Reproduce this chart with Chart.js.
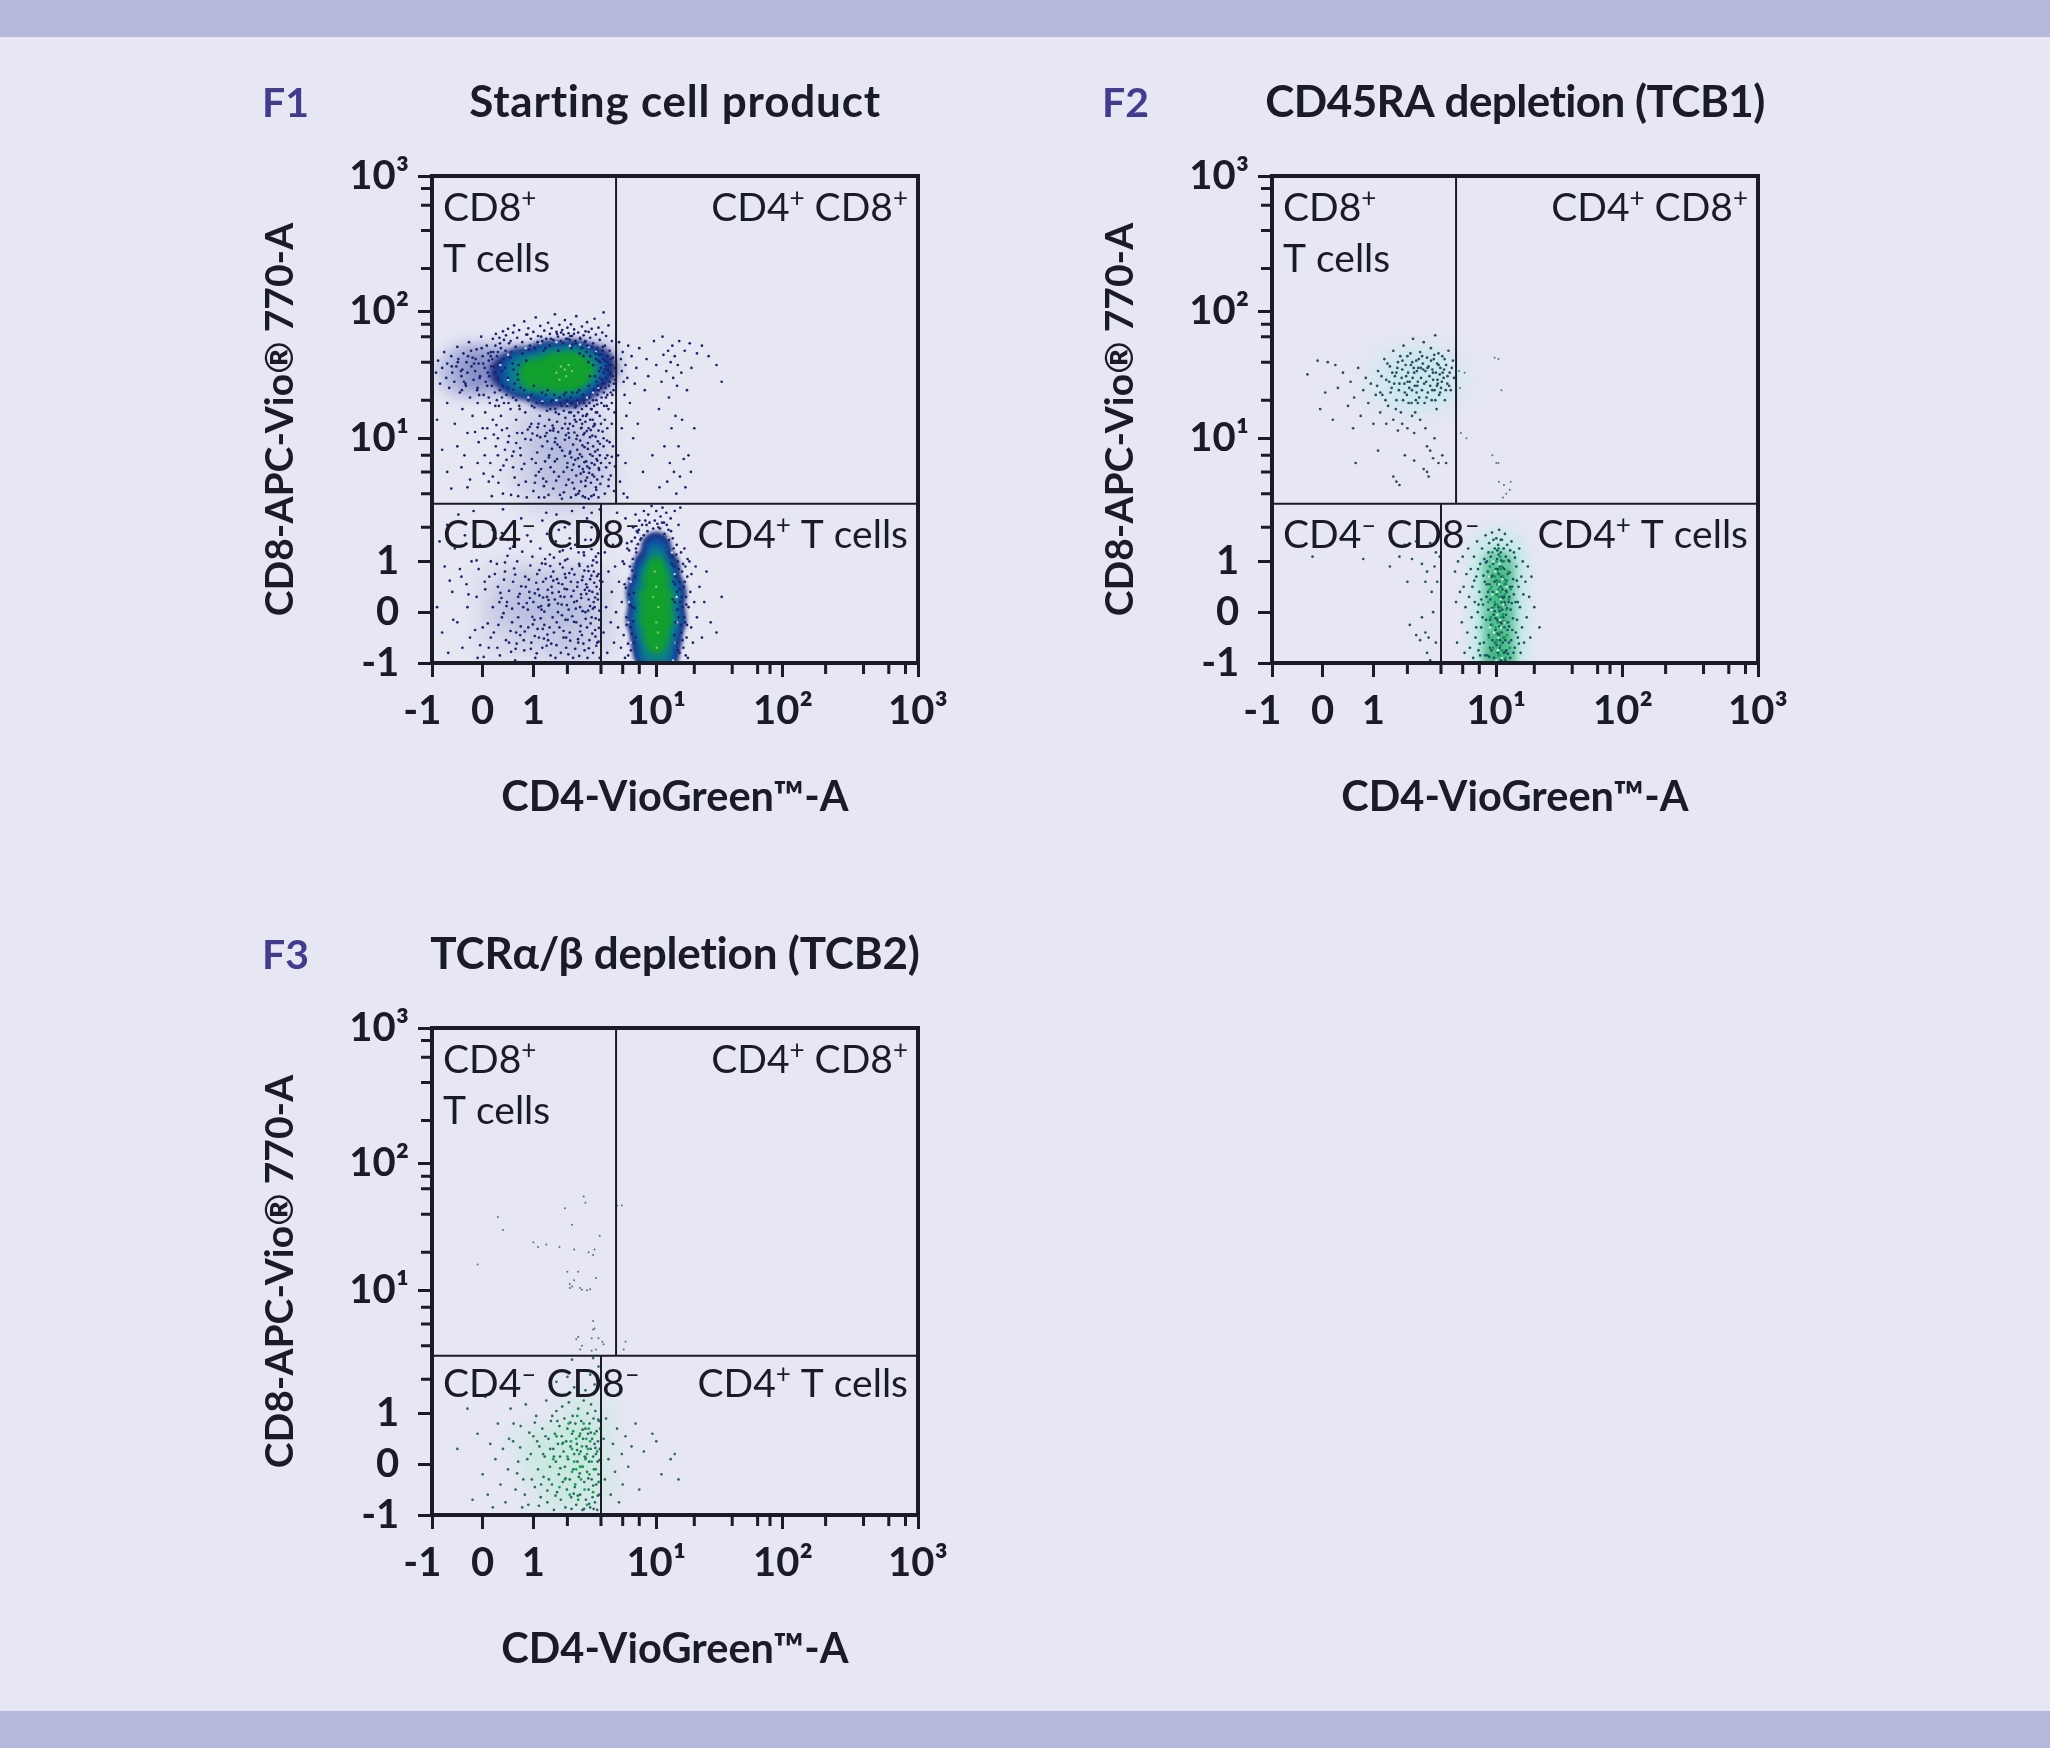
<!DOCTYPE html>
<html><head><meta charset="utf-8">
<script src="https://cdn.jsdelivr.net/npm/chart.js@4/dist/chart.umd.min.js"></script>
<style>
html,body{margin:0;padding:0;background:#e6e7f3;width:2050px;height:1748px;overflow:hidden}
.band{position:absolute;left:0;width:2050px;height:37px;background:#b3b8dc}
canvas{position:absolute}
</style></head><body>
<div class="band" style="top:0"></div><div class="band" style="top:1711px"></div>
<canvas id="f1" style="left:192px;top:56px"></canvas>
<canvas id="f2" style="left:1032px;top:56px"></canvas>
<canvas id="f3" style="left:192px;top:908px"></canvas>
<script>
// Biexponential axis: value anchors and their share of the axis length
const axisValues = [-1,0,1,2,4,6,8,10,20,40,60,80,100,200,400,600,800,1000];
const axisShare = [0,.1043,.2086,.2786,.3477,.3924,.4265,.4615,.5397,.6177,.6700,.6955,.7222,.8099,.8879,.9399,.9743,1];
const majorTicks = [-1,0,1,10,100,1000];
const minorTicks = [2,4,6,8,20,40,60,80,200,400,600,800];
const xTickText = {'-1':'-1\u00A0\u00A0','0':'0','1':'1','10':'10¹','100':'10²','1000':'10³'};
const yTickText = {'-1':'-1\u00A0','0':'0\u00A0','1':'1\u00A0','10':'10¹','100':'10²','1000':'10³'};

// Quadrant gate
const gateY = 3.25, gateXUpper = 5.3, gateXLower = 4;

// F1 density cores, CD8+ population
const f1TopWash = [-.4,34,-.1,35,.2,35,.6,35,1,33,1.5,30,2,30,2.6,33,3.2,36,3.6,36];
const f1TopNavy = [.48,33.2,.81,32.7,1.4,32.1,2.2,33.2,3.45,35.7,2.2,23];
const f1TopBlue = [.73,32.7,1.4,32.7,2.2,33.8,3.15,35.7];
const f1TopTeal = [.87,32.7,1.5,33.2,2.2,34.4,2.87,35.7];
const f1TopGreen = [1.03,32.1,1.57,33.2,2.12,33.8,2.7,35];
const f1TailWash = [1,12,1.4,12,2,12,2.8,12,1,7,1.6,7,2.4,7,3.2,7,1.2,4.5,2,4.5,3,4.5];
const f1LowerWash = [.4,.4,.8,.4,1.2,.4,1.7,.4,2.4,.4,3.2,.4,.4,-.4,1.2,-.4,1.7,-.4,2.4,-.4,3.2,-.4,.7,0];
// F1 density cores, CD4+ population
const f1RightNavy = [10,1.35,10,.85,10,.37,10,-.12,10,-.51,10,-.8];
const f1RightBlue = [10,1.3,10,.8,10,.35,10,-.12,10,-.5,10,-.85];
const f1RightTeal = [10,1.15,10,.75,10,.32,10,-.12,10,-.48,10,-.8];
const f1RightGreen = [10,.92,10,.67,10,.27,10,-.12,10,-.45,10,-.65];
const f1Bright = [1.6,33,1.75,37,1.9,35,1.95,31,2.05,38,1.7,29,2.2,34,10,.5,10.4,.1,9.6,.3,10,-.2,10.3,-.4,9.8,.8,10.1,-.7];
// background-coloured gaps breaking up the outer edge of the cores
const f1RimGaps = [.6,24,.9,21,1.2,19.5,1.6,20,2,18.5,2.5,19,3,21,3.4,23,.5,45,.85,50,1.15,54,1.6,55,2.1,52,2.6,53,3.1,51,3.6,47,3.9,30,3.8,25,.35,38,.5,29,
7.2,1,6.9,.6,6.7,.2,6.6,-.2,6.9,-.6,7.2,-.95,7.5,1.4,8,1.7,9,2,11,2,12.5,1.6,13.3,1.2,14,.75,14.5,.3,14.6,-.2,14.2,-.6,13.6,-.95];

// F1 individual events
const f1Cd8Events = [
-.92,33,-.88,41,-.84,27,-.8,36,-.76,47,-.72,30,-.7,39,-.66,25,-.62,44,-.6,33,-.56,28,-.52,37,-.5,51,-.48,42,-.45,23,-.42,31,-.4,35,-.38,46,-.34,27,-.32,40,-.3,33,-.27,55,-.25,21,-.22,37,-.2,43,-.18,29,-.15,34,-.12,49,-.1,25,-.08,39,-.05,31,-.03,60,0,44,.02,22,.04,36,.06,28,.08,52,.1,33,.12,41,.14,19,.16,47,.18,26,.2,58,.22,37,.24,23,.26,64,.28,44,.3,30,.32,18,.34,54,.36,50,.38,21,.4,68,.42,57,
.46,62,.5,72,.55,56,.6,66,.62,78,.68,59,.72,70,.78,55,.82,84,.86,63,.9,73,.95,58,1,67,1.05,90,1.1,61,1.15,77,1.2,56,1.25,69,1.3,58,1.35,82,1.4,64,1.45,73,1.5,57,1.55,95,1.6,67,1.65,60,1.7,79,1.75,56,1.8,70,1.85,63,1.9,86,1.95,58,2,74,2.05,65,2.1,57,2.15,80,2.2,61,2.3,71,2.35,56,2.4,92,2.5,66,2.6,59,2.7,76,2.8,62,2.9,56,3,83,3.1,67,3.2,59,3.3,72,3.4,54,3.5,88,3.6,63,3.7,50,3.8,74,3.9,57,4,45,4.1,66,4.2,98,4.3,52,4.4,61,4.5,40,4.6,78,4.7,48,4.8,33,4.9,56,5,43,5.1,27,5.2,36,
.25,52,.3,47,.35,40,.4,26,.45,48,.5,30,.55,43,.6,24,.65,51,.7,29,3.8,24,3.9,30,4,36,4.05,21,4.1,27,4.2,33,4.25,18,4.3,41,4.35,25,4.4,30,4.5,22,4.55,35,4.6,17,4.7,28,4.8,23,4.85,38,4.9,19,5,31,5.05,24,5.15,16,5.2,29,
-.9,14,-.7,19,-.55,13,-.4,17,-.3,11,-.2,15,-.1,19,0,12,.05,16,.12,21,.2,14,.25,18,.3,10,.36,15,.42,19,.48,12,.55,17,.6,21,.66,14,.72,18,.78,11,.84,16,.9,20,.96,13,1.02,17.5,1.08,10.5,1.14,15,1.2,19,1.26,12.5,1.32,16.5,1.38,14,1.44,19.5,1.5,11.5,1.56,17,1.62,13.5,1.68,15.5,1.74,19,1.8,12,1.86,16.5,1.92,14.5,1.98,18,2.05,11,2.1,13,2.15,16,2.2,19,2.25,12.5,2.3,15,2.35,17.5,2.4,13.5,2.45,10.5,2.5,16,2.55,19,2.6,14,2.65,12,2.7,17,2.75,15,2.8,20,2.85,11,2.9,13.5,2.95,18,3,15.5,3.1,12,3.15,19,3.2,14,3.3,17,3.35,10.5,3.4,20,3.5,13,3.6,16,3.7,18.5,3.8,11.5,3.9,15,4,13,4.2,10,4.3,14,4.5,12,4.7,9.5,4.9,13,
-.7,6,-.5,9,-.3,4.5,-.1,7,.05,10,.2,5.5,.3,8,.4,4,.5,9.5,.6,6.5,.7,3.8,.75,8,.85,5,.95,9.8,1,4.2,1.05,7,1.12,6,1.2,9,1.25,3.7,1.3,5,1.38,8,1.42,6.5,1.5,4.4,1.55,9.5,1.62,7.5,1.68,5.5,1.72,3.9,1.8,8.5,1.85,6,1.9,9.8,1.95,4.7,2,7,2.05,5.2,2.1,8.2,2.15,3.7,2.2,6.2,2.25,9.2,2.3,4.4,2.35,7.4,2.4,5.6,2.45,8.6,2.5,4,2.55,6.6,2.6,9.7,2.65,5,2.7,7.8,2.75,3.8,2.8,6,2.85,8.9,2.9,4.6,2.95,7.2,3,5.4,3.05,9.4,3.1,3.6,3.15,6.4,3.2,8.1,3.25,4.9,3.3,7,3.35,5.7,3.4,9,3.45,3.9,3.5,6.8,3.55,8.4,3.6,4.5,3.65,7.5,3.7,5.2,3.75,9.6,3.8,3.7,3.85,6.2,3.9,8,3.95,4.8,4,7,4.1,5.5,4.2,9,4.3,4,4.4,6.5,4.5,8,4.6,4.6,4.7,7,4.8,5.6,5,9,5.1,4.2,5.2,6.6];
// second pass over the same population, filling the rim around the dense core
const f1Cd8Rim = [
.31,29,2.23,53,-.17,39,3.72,22,1.07,19,.57,47,4.41,37,1.83,54,.09,26,2.94,15,-.43,34,3.33,51,1.29,22,.73,17,4.12,48,2.61,58,.19,42,3.47,18,1.51,12,-.06,30,2.08,16,4.63,26,.88,63,3.04,52,1.71,21,.44,36,2.47,20,-.29,44,3.86,34,1.17,60,.66,20,4.22,23,2.76,22,.13,31,3.58,46,1.94,23,.52,54,-.61,37,3.16,21,1.39,52,.82,24,4.51,44,2.33,14,-.11,24,3.66,28,1.62,64,.38,34,2.87,55,4.03,19,1.03,50,.21,47,3.25,17,1.91,13,.69,32,-.37,28,2.55,24,4.32,35,1.46,20,.96,22,3.79,41,.01,39,2.18,50,1.23,48,.47,22,3.52,31,4.73,32,2.69,50,.28,20,-.23,48,1.76,66,3.11,26,.59,39,4.16,42,2.39,18,.79,46,1.34,24,3.41,38,-.49,40,2.02,58,4.46,18,.17,37,2.82,19,1.58,16,.93,52,3.64,20,4.08,29,-.02,50,1.11,13,.41,42,2.97,47,3.93,40,1.87,22,.63,27,4.58,34,2.29,64,.11,46,3.21,44,1.43,58,-.33,26,2.71,13,.86,41,3.99,25,1.66,48,.34,24,4.27,27,2.14,21,.75,25,3.37,14,1.19,23,-.14,42,.51,19,2.91,68,4.39,21,3.69,16,1.78,18,.24,33,2.44,23,1.01,26,3.83,45,.61,35,4.67,38,1.53,22,2.12,61,3.09,40,.91,49,-.07,22,.16,44,2.58,46,1.28,50,4.81,42,3.44,24,.71,38,2.38,54,1.97,20,3.6,42,.33,59,4.95,22,2.79,44,-.41,24,1.09,55,3.18,31,.5,25,4.14,51,2.21,23,1.41,17,3.74,26,.97,18];
const f1TailEvents = [
1.66,11.2,2.73,9.1,1.08,8.3,3.42,12.4,.63,5.4,2.27,6.8,1.94,10.6,3.71,7.3,.89,11.7,2.56,4.2,1.33,9.6,3.13,5.9,.47,7.4,2.03,11.9,2.84,7.1,1.59,5.1,3.58,10.3,1.17,6.3,2.41,9.9,3.28,3.8,.74,8.8,1.86,4.1,2.98,11.4,1.48,12.6,3.82,6.4,2.17,7.7,.98,10.9,2.63,5.8,1.72,8.9,3.36,7.9,.56,3.9,2.31,11.1,1.24,4.6,3.05,8.7,1.99,6.5,2.79,10.7,.82,6.9,3.63,4.3,1.41,11.5,2.49,7.6,1.79,3.6,3.19,10.2,1.05,5.6,2.91,5.1,.35,6.2,2.12,8.4,3.52,12.8,1.55,7.2,2.68,12.1,3.91,9.3,1.27,10.4,2.38,3.9,4.35,7.6,1.9,7.9,.66,9.4,3.01,6.6,4.62,5.2,2.22,4.9,1.63,9.2,3.47,5.5,2.75,6.3,.18,3.8,4.12,11.3,1.12,3.7,2.59,8.1,3.74,8.6,.04,8,2.07,10.1,4.48,9.7,2.88,3.7,1.37,7.7,3.24,11.6,-.42,6.5,-.15,11.2,.26,9,-.62,4.4,.12,5,-.8,8.6,4.9,7.8,
.93,12.3,.52,10.4,1.22,5.3,.71,4.7,1.46,8.7,.38,11.6,.84,9.9,1.31,11,.58,7.9,1.03,4.9,1.52,6,.27,12.7,.77,6.3,1.15,10.2,.44,8.6,1.36,3.9,.97,7.5,.68,11,1.27,7.2,.31,4.9,.87,3.7,1.57,10,.15,7,.61,8.4,1.09,12.2,.02,5.8,.41,6.7,-.08,9.5,-.25,5.2,.22,10.7,-.36,8,.09,12];
const f1RightEvents = [
5.6,55,5.8,42,5.9,34,6,47,6.1,28,6.2,22,6.3,38,6.4,15,6.5,30,6.6,52,6.8,19,7,44,7.2,10,7.4,27,7.6,36,7.8,13,8,50,8.4,6,8.6,24,8.8,42,9,31,9.5,8,9.7,56,10,38,10.5,17,10.6,4.5,11,28,11.2,60,11.4,45,11.6,9,12,34,12.2,5,12.4,48,12.6,21,12.8,7,13,40,13.2,12,13.4,52,13.6,30,13.8,6,14,44,14.2,15,14.4,4,14.6,26,14.8,38,15,9,15.2,56,15.4,5.5,15.8,33,16,14,16.5,7.5,16.8,48,17,4.5,17.5,24,18,8,18.4,54,18.8,6,19,36,20,12,21,46,23,52,26,44,30,38,33,28,
5.5,8,5.7,5,5.9,12,6.1,4,6.3,7,6.5,3.7];
const f1LowerLeftEvents = [
-.9,.1,-.85,1.5,-.8,-.4,-.75,.9,-.7,2.1,-.68,-.8,-.6,.4,-.55,1.3,-.5,-.2,-.48,2.6,-.42,.7,-.4,-.7,-.35,1.7,-.3,.1,-.25,-.5,-.22,1,-.18,2.8,-.12,.3,-.1,-.9,-.05,1.4,0,-.3,.04,.6,.08,2.2,.12,-.7,.16,1,.2,.1,.22,-.4,.26,1.6,.3,.5,.34,-.85,.38,-.1,.4,2.9,.44,.8,.48,.2,.52,-.6,.54,1.3,.58,-.2,.6,.6,.64,-.95,.68,1,.7,.3,.74,-.45,.76,2.4,.8,.1,.82,-.75,.84,.7,.88,1.7,.9,-.3,.92,.4,.96,-.6,.98,1.1,1,.2,1.02,-.15,1.04,-.9,1.08,.75,1.1,.45,1.12,-.5,1.15,1.3,1.18,.05,1.2,-.7,1.22,.6,1.25,-.25,1.28,.95,1.3,2.7,1.32,.3,1.35,-.55,1.38,.15,1.4,1.15,1.42,-.85,1.45,.5,1.48,-.1,1.5,.8,1.52,-.4,1.55,.25,1.58,1.5,1.6,-.65,1.62,.65,1.65,0,1.68,.4,1.7,-.3,1.72,.95,1.75,-.8,1.78,.15,1.8,.55,1.82,1.25,1.85,-.5,1.88,.3,1.9,.75,1.92,-.15,1.95,-.7,1.98,.45,2,1.05,2.05,.05,2.1,-.4,2.15,.6,2.2,.85,2.25,-.9,2.3,.2,2.35,1.4,2.4,-.2,2.45,.5,2.5,-.6,2.55,.95,2.6,.1,2.65,.35,2.7,-.45,2.75,.7,2.8,1.2,2.85,-.75,2.9,0,2.95,.55,3,-.3,3.05,.9,3.1,.25,3.15,-.55,3.2,.65,3.25,1.55,3.3,-.1,3.35,.4,3.4,-.8,3.45,.8,3.5,.1,3.55,-.35,3.6,1.1,3.65,.5,3.7,-.6,3.75,.25,3.8,.75,3.85,-.15,3.9,-.9,3.95,.45,
1.2,2.3,1.6,2.6,1.9,2,2.2,2.8,2.5,2.2,2.8,3,3,2.4,3.3,2.7,3.6,2.1,3.9,2.9];
// second pass over the double-negative cloud
const f1LowerDense = [
2.17,.31,1.44,-.62,3.28,.72,.87,.18,2.63,-.27,1.91,1.02,3.57,-.48,1.13,.83,2.38,.07,3.11,-.71,1.67,.57,2.82,1.13,.55,-.37,3.72,.36,2.04,-.83,1.36,.24,3.01,.49,2.49,-.53,1.79,-.06,3.41,1.02,.99,-.24,2.71,.63,1.52,1.08,3.83,-.31,2.27,.42,1.07,-.81,3.19,.12,1.93,.68,2.57,.91,3.63,-.66,1.61,-.2,2.92,-.13,.76,.51,3.34,-.42,2.12,-.56,1.29,.66,3.48,.58,2.43,.22,1.74,.31,3.09,.81,1.21,-.33,2.78,-.62,3.78,1.18,1.98,.14,2.31,.74,.94,.92,3.23,-.22,1.47,.38,2.66,.28,3.54,.29,1.85,-.37,2.96,.36,1.17,.12,3.87,.03,2.21,-.08,1.57,-.9,3.38,.07,2.52,1.2,.62,.86,3.03,-.9,1.71,1.22,2.87,.44,3.93,.62,1.33,-.44,2.35,-.72,3.67,.98,1.89,.46,2.6,-.38,.81,-.55,3.15,.42,2.08,.77,1.41,.91,3.59,-.12,2.74,.02,1.03,.37,3.29,1.28,1.95,-.5,2.47,.59,.42,.64,3.44,.2,2.15,1.3,1.25,.01,3.81,-.58,2.84,.82,1.65,.17,3.07,.03,2.29,-.19,.7,-.1,3.69,.71,1.82,.88,2.55,-.86,1.5,.62,3.33,.92,2.01,-.15,-.15,-.35,.28,.95,-.58,-.15,.1,-.22,.33,.2,-.32,.55,.5,1.55,-.08,.85,.2,1.9,.65,-.72,
.73,.36,1.16,-.12,.46,-.55,.91,.64,1.34,.44,.58,.07,1.03,-.47,.37,.28,.83,-.38,1.27,1.05,.64,.74,1.11,.1,.49,1.12,.95,-.72,1.39,-.3,.31,-.25,.78,1.22,1.22,.29,.56,-.78,1.06,.58,.41,-.02,.89,.05,1.31,-.66,.67,-.62,1.19,.96,.24,.75,.71,.17,1.43,.7,.52,.42,.98,-.09,.35,.38,.85,.5,1.24,-.52,.6,1.35,1.09,-.33,.44,.98,.93,.28,1.36,.13,.16,-.5,.75,-.28,1.13,.33,.05,.45,.66,-.4,-.05,-.65,.29,-.7,-.28,.35,.13,.7,-.45,.85,.47,.12,-.12,1.02,.02,-.88,-.65,.62,.38,1.78,.95,1.5,1.32,1.75,1.68,1.9,2.1,1.6,2.45,1.85,2.9,1.55,3.3,2,3.7,1.55];
const f1CentreEvents = [
4.1,.6,4.2,-.4,4.3,1.2,4.4,.1,4.5,-.8,4.6,.8,4.7,2.2,4.8,-.2,4.9,.4,5,1.4,5.1,-.6,5.2,.9,5.3,0,5.4,2.7,5.5,-.3,5.6,.6,5.7,1.6,5.8,-.7,5.9,.2,6,1,6.1,-.45,6.2,.55,6.3,2.4,6.4,-.1,6.5,1.3,6.6,-.85,6.7,.35,6.8,.9,6.9,-.3,7,1.5,7.1,.1,7.2,2,7.3,-.6,7.4,.7,7.5,2.6,7.6,1.2,7.8,1.8,8,2.3,8.2,1.6,8.5,2.8,8.8,2.1,9,2.6,9.4,3.1,9.8,2.3,10,2.8,10.4,2,10.8,2.5,11.2,3,11.5,2.2,12,2.7,12.5,1.9,13,2.4,13.5,1.6,14,2.8,14.5,1.4,15,2.1,15.5,3,
13.4,1.1,13.6,.6,13.8,.9,14,.2,14.2,-.2,14.3,.7,14.5,-.6,14.6,.4,14.8,1,15,-.1,15.2,.6,15.3,-.8,15.5,.2,15.7,1.2,15.8,-.4,16,.8,16.2,.1,16.4,-.7,16.5,.5,16.7,1.3,16.9,-.2,17,.9,17.2,.3,17.4,-.5,17.6,.7,17.8,-.9,18,.1,18.3,1,18.6,.4,18.9,-.3,19,.75,19.5,-.6,20,.2,20.5,.9,21,-.1,22,.5,23,-.5,24,.2,25,.8,27,-.2,30,-.4,33,.3,
6.15,.95,6.42,-.25,6.71,1.25,6.33,.48,6.58,-.62,6.24,-.9,6.85,.14,6.47,1.45,7.02,-.42,6.68,.66,7.15,1.05,6.92,-.75,7.28,.38,7.09,.82,7.42,1.62,7.21,-.18,7.55,1.3,7.36,.08,7.68,1.85,7.49,-.5,7.81,1.42,7.95,1.9,8.12,1.55,8.3,2.1,8.48,1.7,8.66,2.3,8.9,1.85,9.15,2.2,9.6,1.95,10.2,2.15,10.7,1.95,11.1,2.2,11.6,1.75,12.1,2.1,12.6,1.55,13.1,1.85,13.3,.95,13.7,1.3,13.5,.25,13.9,-.45,14.1,.55,14.4,1.15,14.7,.05,14.9,-.75,15.1,.85,15.4,.45,15.6,-.25,15.9,.3,16.1,-.55,16.3,.95,16.6,-.1,16.8,.6,17.1,-.85,17.3,.15,17.5,-.25,17.7,1.05];

// F2 events
const f2TopEvents = [
1.1,34,1.2,22,1.25,42,1.3,29,1.35,18,1.4,37,1.45,25,1.5,48,1.55,31,1.6,20,1.65,40,1.7,27,1.75,16,1.8,35,1.85,52,1.9,23,1.95,31,2,44,2.05,19,2.1,28,2.15,38,2.2,24,2.25,58,2.3,33,2.35,16,2.4,41,2.45,26,2.5,36,2.55,21,2.6,47,2.65,30,2.7,24,2.75,39,2.8,55,2.85,19,2.9,34,2.95,28,3,43,3.05,23,3.1,37,3.15,31,3.2,26,3.25,50,3.3,20,3.35,35,3.4,29,3.45,42,3.5,24,3.55,62,3.6,33,3.65,17,3.7,39,3.75,27,3.8,46,3.85,22,3.9,32,3.95,36,4,25,4.1,44,4.2,30,4.3,20,4.4,38,4.5,27,4.6,48,4.7,33,4.8,24,4.9,36,5,41,5.1,30,
.3,25,.4,33,.5,18,.55,28,.62,21,.7,36,.75,15,.8,24,.85,30,.9,19,.95,27,1,13,1.05,22,1.15,16,1.3,13,1.5,14,1.65,11.5,1.8,13,2,12,2.2,15,2.3,11,2.6,14,2.9,12,3,9,3.2,8.5,3.4,7.6,3.5,10,3.8,7,4.1,8,4.4,7,
-.3,32,-.1,41,.1,40,.25,38,.05,23,-.05,17,.2,14,.6,12,.65,7,1.1,8.5,1.5,5.5,1.6,5,1.7,4.7,1.9,8,2.3,7.3,2.8,6.3,3,6,3.1,5.5,
1.08,26,1.18,31,1.28,20,1.33,39,1.42,23,1.47,33,1.53,27,1.58,17,1.63,36,1.68,24,1.73,44,1.78,30,1.83,20,1.88,27,1.93,38,1.98,22,2.03,33,2.08,25,2.13,46,2.18,19,2.23,30,2.28,36,2.33,26,2.38,20,2.43,34,2.48,28,2.53,42,1.15,23,1.38,28,1.6,33,1.81,41,2.01,28,2.21,40,2.42,23,2.64,36,
2.71,44,4.24,35,3.34,24,2.48,19,4.06,28,2.97,21,3.81,38,3.48,45,4.37,24,3.03,36,3.72,29,4.52,31,3.26,41,2.83,27,4.13,33,3.56,20,3.93,23,2.77,35,4.65,26,3.39,33,3.68,26,4.28,42];
const f2RightEvents = [5.6,34,5.7,25,6.2,33,5.8,11,6.4,10,9.5,8,10,7,10.4,7,9.8,43,10.4,42,11,24,10.5,5,11.5,4.7,12,4,13,5,12.8,4.3,11.3,3.7];
const f2LowerEvents = [
1.4,.9,1.7,1.1,1.9,1.4,2,.6,2.2,1.05,2.4,1.5,2.6,1.35,2.7,.95,2.9,.6,3,.8,3.2,1.45,3.3,.4,3.5,.9,3.6,1.2,3.7,.6,3.9,1.1,2.1,-.25,2.4,-.45,2.6,-.55,2.7,-.1,2.9,-.4,3.1,-.5,3,-.8,3.2,-.95,3.4,0,3.6,-.6,-.2,1.1,.8,1.05,
5.2,.8,5.3,.2,5.4,-.6,5.5,1,5.7,.4,5.9,-.2,6,1.1,6.1,.5,6.2,-.8,6.3,.1,6.4,.75,6.5,-.4,6.6,1.3,6.7,.3,6.8,-.7,6.9,.85,7,-.1,7.1,.5,7.2,-.9,7.3,1.1,7.4,.2,7.5,-.5,7.6,.7,7.7,1.5,7.8,0,7.9,-.75,8,.4,8.1,.95,8.2,-.3,8.3,1.3,8.4,.15,8.5,-.6,8.6,.6,8.7,1.7,8.75,-.15,8.8,.3,8.85,1,8.9,-.85,8.95,.8,9,.05,9.05,-.45,9.1,1.45,9.15,.55,9.2,-.7,9.25,.25,9.3,1.1,9.35,-.25,9.4,.7,9.45,1.8,9.5,-.55,9.55,.4,9.6,.95,9.65,-.05,9.7,-.9,9.75,.6,9.8,1.3,9.85,.15,9.9,-.35,9.95,.85,10,1.6,10.05,-.65,10.1,.35,10.15,1.05,10.2,-.15,10.25,.55,10.3,-.8,10.35,1.4,10.4,.1,10.45,.75,10.5,-.45,10.55,1.9,10.6,.3,10.65,-.7,10.7,.9,10.75,.5,10.8,-.2,10.85,1.2,10.9,-.95,10.95,.2,11,.7,11.05,-.4,11.1,1.55,11.15,.05,11.2,.45,11.25,-.6,11.3,1,11.35,-.1,11.4,.65,11.45,1.3,11.5,-.8,11.55,.3,11.6,.85,11.65,-.3,11.7,1.75,11.75,.15,11.8,-.55,11.85,.55,11.9,1.1,11.95,-.05,12,-.75,12.1,.4,12.2,1.4,12.3,.75,12.4,-.2,12.5,.2,12.6,-.6,12.7,1,12.8,.5,12.9,-.9,13,.05,13.2,1.5,13.4,-.35,13.6,.65,13.8,1.2,14,-.7,14.2,.2,14.4,.9,14.6,-.15,14.8,-.5,15,.5,15.2,1.3,15.4,.1,15.6,-.8,15.8,.7,16,-.3,16.2,1,16.4,.35,16.6,-.6,17,.6,17.4,-.1,17.8,.9,18.2,.3,18.6,-.5,19,.7,20,.1,22,-.3,
7.33,.62,7.58,-.3,7.82,.85,8.06,-.62,8.22,.25,8.44,.72,8.63,-.85,8.82,.55,9.03,1.2,9.22,-.15,9.44,.08,9.63,1.55,9.84,-.6,10.03,.62,10.24,-.42,10.44,1.15,10.63,.02,10.84,1.55,11.03,-.22,11.24,.88,11.44,-.5,11.63,.2,11.86,-.78,12.05,.62,12.26,-.35,12.46,1.02,12.68,.3,12.88,1.25,13.1,-.55,13.32,.5,13.55,-.12,13.78,.35,14.05,1.08,14.3,-.4,14.55,.62,14.8,.2,15.1,-.62,7.9,.15,8.35,-.1,8.72,.98,9.12,-.88,9.55,.72,9.92,-.12,10.33,.85,10.72,-.55,11.13,.3,11.52,-.18,11.92,.42,12.35,-.82,12.78,.78,13.25,.18,13.7,-.8,8.1,-.85,8.55,1.05,8.98,.4,9.38,-.75,9.78,.02,10.18,1.25,10.58,-.28,10.98,1.02,11.38,.28,11.78,-.95,12.18,.08,12.62,-.28];
const f2GreenEvents = [
9,.2,9.1,-.5,9.2,.9,9.3,-.1,9.4,.5,9.5,1.2,9.6,-.7,9.7,.1,9.8,.7,9.9,-.3,10,.35,10.05,1,10.1,-.55,10.2,.15,10.25,.8,10.3,-.2,10.4,.45,10.45,1.3,10.5,-.85,10.55,.05,10.6,.6,10.65,-.4,10.7,.25,10.75,1.1,10.8,-.65,10.85,.4,10.9,.85,10.95,-.1,11,.5,11.1,-.75,11.2,.2,11.3,.7,11.4,-.3,11.5,1,11.6,-.5,11.7,.35,11.8,-.9,11.9,.6,12,.05,12.2,-.45,12.4,.8,12.6,.25,12.8,-.7,13,.45,
9.2,.45,9.5,-.25,9.8,.2,10,-.6,10.2,.6,10.5,.3,10.8,.1,11,.9,11.3,-.05,11.6,.55,12,-.2];
const f2PaleEvents = [9.5,.35,9.9,.8,10.2,-.05,10.5,.55,10.4,-.5,10.8,.25,10.9,-.3,11.2,.65,9.7,-.4,10.1,.4,11.4,.15,10.6,.95,9.4,.05,10.3,-.75,10.7,-.15,9.2,-.3,9.6,1,11.6,-.2,11.1,-.9,10,-.95,12.1,.5,9.1,.7];
const f2LowerHalo = [10.5,1.1,10.5,.7,10.5,.3,10.5,-.1,10.5,-.5,10.5,-.9];
const f2TopHalo = [1.6,29,2.2,29,2.9,29,3.6,30];
const f2Core = [10.5,.9,10.5,.5,10.5,.1,10.5,-.3,10.5,-.7,10.5,-1];

// F3 events
const f3UpperEvents = [
-.1,16,.3,38,.4,30,1,24,1.1,22,1.3,23,1.7,22,1.9,44,2.2,33,2.3,21,3.1,20,3.4,19,3.5,21,3.9,27,2.8,53,2.9,48,3.6,12.5,2.6,10.4,2.7,10.1,3,10,3.2,10.2,
2.1,11.2,2.2,10.7,2,14,2.3,12,2.1,10.4,2.5,14,3.4,6.3,3.4,5.4,3.3,4.6,3.5,5.5,2.4,4.5,2.5,4.7,2.7,4,2.6,3.7,3.8,4.6,4.1,4.3,4.2,4.1,3.6,3.7,3.3,3.6,
5.4,46,5.9,46,6.3,4.3,6.1,3.7];
const f3LowerEvents = [
-.5,.3,-.3,1.1,-.2,-.7,-.1,.6,0,-.2,.05,1.4,.1,-.6,.15,.4,.2,-.85,.25,.1,.3,.8,.35,-.4,.4,.3,.45,-.75,.5,-.1,.55,1.1,.6,.45,.65,-.5,.7,.05,.75,.75,.8,-.3,.85,1.2,.9,-.8,.95,.2,1,.55,1.03,-.45,1.06,.95,1.1,-.1,1.13,.35,1.16,-.65,1.2,.7,1.23,-.25,1.26,.15,1.3,1.3,1.33,-.75,1.36,.5,1.4,-.05,1.43,.85,1.46,-.4,1.5,.3,1.52,-.9,1.55,.6,1.58,.05,1.6,1.05,1.62,-.55,1.65,.4,1.68,-.2,1.7,.75,1.72,.15,1.75,-.7,1.78,.55,1.8,1.15,1.82,-.35,1.85,.25,1.88,.9,1.9,-.05,1.92,-.85,1.95,.45,1.98,-.5,2,.7,2.03,.1,2.06,1.25,2.1,-.3,2.13,.35,2.16,-.65,2.2,.6,2.23,.95,2.26,-.1,2.3,.2,2.33,-.45,2.36,.8,2.4,-.8,2.43,.4,2.46,.05,2.5,1.1,2.53,-.25,2.56,.55,2.6,-.6,2.63,.25,2.66,.85,2.7,-.05,2.73,-.9,2.76,.5,2.8,1.3,2.83,-.35,2.86,.15,2.9,.7,2.93,-.7,2.96,.35,3,-.15,3.03,1,3.06,.6,3.1,-.5,3.13,.05,3.16,.8,3.2,-.85,3.23,.3,3.26,1.2,3.3,-.3,3.33,.5,3.36,-.65,3.4,.15,3.43,.9,3.46,-.1,3.5,.4,3.53,-.75,3.56,1.05,3.6,.2,3.63,-.4,3.66,.65,3.7,-.9,3.73,.05,3.76,.45,3.8,-.2,3.83,.85,3.86,-.6,3.9,.3,3.93,.7,3.96,-.35,
1.6,1.9,2,2.1,2.3,1.7,2.6,2.4,2.9,1.6,3.2,2.2,3.5,1.8,3.8,2.6,2.2,3,3.4,3.1,
4.2,.5,4.3,-.3,4.4,.9,4.6,.1,4.8,-.6,5,.4,5.2,-.15,5.4,.7,5.6,-.75,5.9,.2,6,-.4,6.3,.55,6.6,-.05,7,.35,7.5,.8,8,-.5,8.5,.25,9.5,.6,10,.45,11,-.2,13,.1,14,.2,15,-.3,
1.22,.2,.68,-.18,1.47,.95,.92,.62,1.12,-.82,1.37,-.3,.74,.33,1.03,.82,1.57,-.62,.83,-.6,1.28,.55,.61,.8,1.17,-.4,1.41,.3,.97,-.3,1.52,.15,.52,.5,1.08,.45,1.33,-.52,.78,-.85,1.63,.85,.88,.1,1.73,-.08,1.83,.42,1.93,-.28,2.12,.82,2.28,-.58,2.44,.28,2.58,-.18,2.74,.68,2.92,.12,3.08,-.28,3.24,.62,3.41,-.42,3.57,.32,3.74,-.62,3.88,.08,2.18,-.88,2.48,-.62,2.82,-.88,3.14,-.78,3.44,-.88,3.78,.88];
const f3GreenEvents = [
1.8,.4,1.9,-.3,2,.15,2.05,.8,2.1,-.6,2.15,.45,2.2,-.15,2.25,.65,2.3,.05,2.35,-.4,2.4,.5,2.45,.95,2.5,-.7,2.55,.2,2.6,.6,2.65,-.3,2.7,.35,2.75,-.05,2.8,.8,2.85,-.5,2.9,.1,2.95,.5,3,-.8,3.05,.3,3.1,.7,3.15,-.2,3.2,.45,3.3,.05,3.4,-.55,3.5,.6,3.6,-.1,3.7,.25,3.8,-.35,1.5,.1,1.6,.55,1.7,-.45,2.2,.3,2.6,-.05,3,.2,2.4,-.1];
const f3Halo = [1,.3,1.3,.1,1.6,.3,2,.3,2.6,.3,3.3,.3,1.4,-.5,2,-.4,2.6,-.4,3.3,-.4,2.6,.9,3.3,.9];

const xyPoints = flat => { const pts = []; for (let i = 0; i < flat.length; i += 2) pts.push({x: flat[i], y: flat[i + 1]}); return pts; };

// Piecewise axis built on the linear scale: ticks and pixels follow the anchor table
class BiexpScale extends Chart.LinearScale {
  buildTicks() { return majorTicks.map(value => ({value})); }
  share(v) {
    const last = axisValues.length - 1;
    if (v <= axisValues[0]) return axisShare[0] + (v - axisValues[0]) * axisShare[1];
    if (v >= axisValues[last]) return 1;
    let i = 0;
    while (axisValues[i + 1] < v) i++;
    const a = axisValues[i], b = axisValues[i + 1];
    const t = a >= 1 ? Math.log(v / a) / Math.log(b / a) : (v - a) / (b - a);
    return axisShare[i] + t * (axisShare[i + 1] - axisShare[i]);
  }
  getPixelForValue(v) { return this.getPixelForDecimal(this.share(v)); }
}
BiexpScale.id = 'biexp';
BiexpScale.defaults = Chart.LinearScale.defaults;
Chart.register(BiexpScale);

const INK = '#1a1b26', FONT = 'Lato, "Open Sans", sans-serif';

// Text run with raised segments, for the quadrant names
function drawRuns(ctx, runs, x, y, align) {
  const size = 39, sup = 26;
  const w = r => { ctx.font = `400 ${r[1] ? sup : size}px ${FONT}`; return ctx.measureText(r[0]).width; };
  const total = runs.reduce((s, r) => s + w(r), 0);
  let cx = align === 'right' ? x - total : x;
  ctx.textAlign = 'left'; ctx.textBaseline = 'alphabetic'; ctx.fillStyle = INK;
  for (const r of runs) {
    const width = w(r);
    ctx.fillText(r[0], cx, r[1] ? y - 14 : y);
    cx += width;
  }
}

const panelDecor = {
  id: 'panelDecor',
  beforeDatasetDraw(chart, args) {
    const blur = chart.data.datasets[args.index].soften;
    if (blur) { chart.ctx.save(); chart.ctx.filter = `blur(${blur}px)`; }
  },
  afterDatasetDraw(chart, args) {
    if (chart.data.datasets[args.index].soften) chart.ctx.restore();
  },
  afterDatasetsDraw(chart) {
    const {ctx, chartArea: a, scales: {x, y}} = chart;
    const o = chart.options.plugins.panelDecor;
    ctx.save();
    // quadrant names
    drawRuns(ctx, [['CD8',0],['+',1]], a.left + 11, a.top + 45);
    drawRuns(ctx, [['T cells',0]], a.left + 11, a.top + 96);
    drawRuns(ctx, [['CD4',0],['+',1],[' CD8',0],['+',1]], a.right - 10, a.top + 45, 'right');
    drawRuns(ctx, [['CD4',0],['\u2013',1],[' CD8',0],['\u2013',1]], a.left + 11, a.top + 372 + o.lowerShift);
    drawRuns(ctx, [['CD4',0],['+',1],[' T cells',0]], a.right - 10, a.top + 372 + o.lowerShift, 'right');
    // frame and outer ticks
    ctx.strokeStyle = INK; ctx.lineWidth = 4;
    ctx.strokeRect(a.left, a.top, a.right - a.left, a.bottom - a.top);
    ctx.lineWidth = 3;
    ctx.beginPath();
    for (const v of minorTicks) {
      const px = x.getPixelForValue(v), py = y.getPixelForValue(v);
      ctx.moveTo(px, a.bottom); ctx.lineTo(px, a.bottom + 11);
      ctx.moveTo(a.left, py); ctx.lineTo(a.left - 11, py);
    }
    ctx.stroke();
    // panel tag and heading
    ctx.textBaseline = 'alphabetic';
    ctx.font = `700 41px ${FONT}`; ctx.fillStyle = '#433b8e'; ctx.textAlign = 'left';
    ctx.fillText(o.tag, a.left - 170, a.top - 59);
    ctx.font = `700 44px ${FONT}`; ctx.fillStyle = INK; ctx.textAlign = 'center';
    ctx.letterSpacing = o.spacing + 'px';
    ctx.fillText(o.heading, (a.left + a.right) / 2, a.top - 59);
    ctx.restore();
  }
};

const dots = (flat, color, radius) => ({data: xyPoints(flat), pointRadius: radius || 1.35, pointBackgroundColor: color, pointBorderWidth: 0, pointHoverRadius: 0});
const blob = (flat, color, radius, soften) => ({data: xyPoints(flat), pointRadius: radius, pointBackgroundColor: color, pointBorderWidth: 0, soften});
const gate = pts => ({type: 'line', data: pts, borderColor: INK, borderWidth: 2, pointRadius: 0, fill: false});
const gateLines = () => [
  gate([{x:-1,y:gateY},{x:1000,y:gateY}]),
  gate([{x:gateXUpper,y:gateY},{x:gateXUpper,y:1000}]),
  gate([{x:gateXLower,y:-1},{x:gateXLower,y:gateY}])
];

function axis(title, tickText, titlePad, isX, titleSize) {
  return {
    type: 'biexp', min: -1, max: 1000,
    border: {display: true, color: INK, width: 4},
    grid: {drawOnChartArea: false, drawTicks: true, tickLength: 14, tickWidth: 3, tickColor: INK},
    ticks: {autoSkip: false, maxRotation: 0, minRotation: 0, color: INK, padding: isX ? 10 : 9,
      font: {family: FONT, size: 40, weight: '700'},
      callback: v => tickText[String(v)]},
    title: {display: true, text: title, color: INK, font: {family: FONT, size: titleSize, weight: '700'}, padding: titlePad},
    afterFit: s => { if (isX) s.height = 183; else s.width = 240; }
  };
}

// Datasets listed bottom layer first; Chart.js paints the first dataset on top, hence the reverse
function makePanel(id, tag, heading, spacing, lowerShift, layers) {
  const canvas = document.getElementById(id);
  canvas.width = 966; canvas.height = 790;
  return new Chart(canvas, {
    type: 'scatter',
    data: {datasets: [...gateLines(), ...layers.slice().reverse()]},
    options: {
      responsive: false, animation: false, events: [],
      layout: {padding: {top: 120, right: 240, left: 0, bottom: 0}},
      plugins: {legend: {display: false}, tooltip: {enabled: false}, panelDecor: {tag, heading, spacing, lowerShift}},
      scales: {
        x: axis('CD4-VioGreen™-A', xTickText, {top: 0, bottom: 23}, true, 41.5),
        y: axis('CD8-APC-Vio® 770-A', yTickText, {top: 65, bottom: 0}, false, 39)
      }
    },
    plugins: [panelDecor]
  });
}

const NAVY = '#1d2a78', SPECK = '#1c2470', BLUE = '#114ea6', TEAL = '#0c7d8c', GREEN = '#12a02e';
makePanel('f1', 'F1', 'Starting cell product', .8, 0, [
  blob(f1TailWash, 'rgba(70,80,165,.07)', 30, 9), blob(f1LowerWash, 'rgba(70,80,165,.07)', 30, 9), blob(f1TopWash, 'rgba(45,60,160,.22)', 26, 7),
  blob(f1TopNavy, NAVY, [17,26,34,33,22,14], 3), blob(f1TopBlue, BLUE, [22,30,29,20], 3), blob(f1TopTeal, TEAL, [20,26,25,17], 3), blob(f1TopGreen, GREEN, [16,20,20,12], 3),
  blob(f1RightNavy, NAVY, [15,24,30,30,26,23], 2), blob(f1RightBlue, BLUE, [12,21,27,27,23,20], 2.5), blob(f1RightTeal, TEAL, [9,17,23,23,19,15], 3), blob(f1RightGreen, GREEN, [9,13,17,17,13,9], 3),
  dots(f1RimGaps, '#cdd2ee', 1.2), dots(f1Bright, '#7fc85a', 1.2),
  dots(f1Cd8Events, SPECK), dots(f1Cd8Rim, SPECK), dots(f1TailEvents, SPECK), dots(f1RightEvents, SPECK), dots(f1LowerLeftEvents, SPECK), dots(f1LowerDense, SPECK), dots(f1CentreEvents, SPECK)
]);
makePanel('f2', 'F2', 'CD45RA depletion (TCB1)', -.55, 0, [
  blob(f2TopHalo, 'rgba(190,232,235,.3)', 32, 8), blob(f2LowerHalo, 'rgba(190,235,230,.6)', 30, 6), blob(f2Core, 'rgba(20,165,95,.5)', 17, 4),
  dots(f2TopEvents, '#2a4b60'), dots(f2RightEvents, '#56708a', 1), dots(f2LowerEvents, '#1f5560'), dots(f2GreenEvents, '#149a5a', 1.4), dots(f2PaleEvents, '#c9f0dc', 1.2)
]);
makePanel('f3', 'F3', 'TCRα/β depletion (TCB2)', -.2, -3, [
  blob(f3Halo, 'rgba(190,235,215,.28)', 26, 8),
  dots(f3UpperEvents, '#5d6e86', 1), dots(f3LowerEvents, '#2a6a64'), dots(f3GreenEvents, '#18a250', 1.4)
]);
</script></body></html>
